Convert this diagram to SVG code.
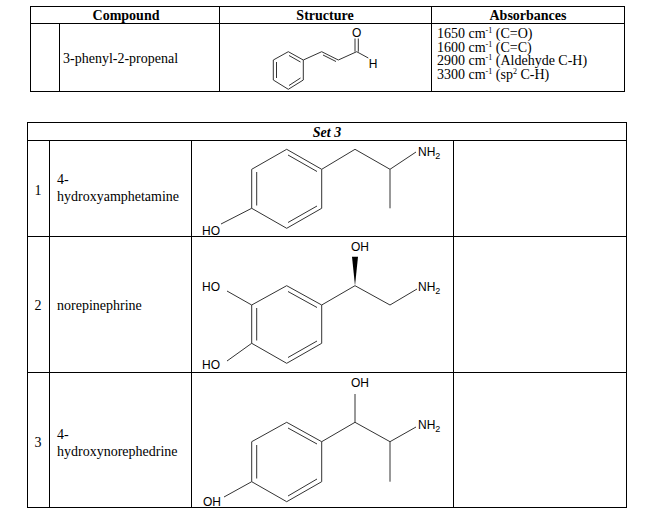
<svg xmlns="http://www.w3.org/2000/svg" width="663" height="526" viewBox="0 0 663 526">
<style>
.t{font-family:"Liberation Serif",serif;font-size:14px;fill:#000}
.h{font-weight:bold;text-anchor:middle}
.a{font-family:"Liberation Sans",Arial,sans-serif;font-size:12px;fill:#000}
.g{fill:none;stroke:#000;stroke-width:1}
.b{fill:none;stroke:#333;stroke-width:1}
</style>
<rect width="663" height="526" fill="#fff"/>
<g id="table1" class="g">
<rect x="30.5" y="6.5" width="594" height="85"/>
<line x1="30" y1="23.5" x2="625" y2="23.5"/>
<line x1="59.5" y1="23" x2="59.5" y2="92"/>
<line x1="219.5" y1="6" x2="219.5" y2="92"/>
<line x1="431.5" y1="6" x2="431.5" y2="92"/>
</g>
<g id="table1-text">
<text class="t h" x="126" y="20">Compound</text>
<text class="t h" x="325" y="20">Structure</text>
<text class="t h" x="528" y="20">Absorbances</text>
<text class="t" x="63" y="63">3-phenyl-2-propenal</text>
<text class="t" x="437" y="38">1650 cm<tspan font-size="8" dy="-5">-1</tspan><tspan dy="5"> (C=O)</tspan></text>
<text class="t" x="437" y="51.5">1600 cm<tspan font-size="8" dy="-5">-1</tspan><tspan dy="5"> (C=C)</tspan></text>
<text class="t" x="437" y="65">2900 cm<tspan font-size="8" dy="-5">-1</tspan><tspan dy="5"> (Aldehyde C-H)</tspan></text>
<text class="t" x="437" y="78.5">3300 cm<tspan font-size="8" dy="-5">-1</tspan><tspan dy="5"> (sp</tspan><tspan font-size="8" dy="-5">2</tspan><tspan dy="5"> C-H)</tspan></text>
</g>
<g id="cinnamaldehyde" class="b">
<polygon points="288.3,51.7 303.3,60 303.3,80 288.3,89.3 273.3,80 273.3,60"/>
<line x1="276.5" y1="62" x2="276.5" y2="78"/>
<line x1="289" y1="55.5" x2="300.5" y2="62"/>
<line x1="300.5" y1="78" x2="289" y2="85.5"/>
<polyline points="303.3,60 321.7,51.7 338.3,60 356.7,51.7 368.3,58"/>
<line x1="323" y1="55" x2="336" y2="61.5"/>
<line x1="355" y1="51.7" x2="355" y2="38.5"/>
<line x1="358.3" y1="51.7" x2="358.3" y2="38.5"/>
</g>
<g id="cinnamaldehyde-labels">
<text class="a" x="356.7" y="37" text-anchor="middle">O</text>
<text class="a" x="373" y="68" text-anchor="middle">H</text>
</g>
<g id="table2" class="g">
<rect x="27.5" y="122.5" width="599" height="385"/>
<line x1="27" y1="140.5" x2="627" y2="140.5"/>
<line x1="49.5" y1="140" x2="49.5" y2="508"/>
<line x1="191.5" y1="140" x2="191.5" y2="508"/>
<line x1="453.5" y1="140" x2="453.5" y2="508"/>
<line x1="27" y1="236.5" x2="627" y2="236.5"/>
<line x1="27" y1="372.5" x2="627" y2="372.5"/>
</g>
<g id="table2-text">
<text class="t" x="327" y="137" text-anchor="middle" font-weight="bold" font-style="italic">Set 3</text>
<text class="t" x="38" y="195" text-anchor="middle">1</text>
<text class="t" x="57" y="184">4-</text>
<text class="t" x="57" y="201">hydroxyamphetamine</text>
<text class="t" x="38" y="310" text-anchor="middle">2</text>
<text class="t" x="57" y="310">norepinephrine</text>
<text class="t" x="38" y="447" text-anchor="middle">3</text>
<text class="t" x="57" y="439">4-</text>
<text class="t" x="57" y="456">hydroxynorephedrine</text>
</g>
<g id="mol1" class="b">
<polygon points="286.7,149.3 321.7,169.3 321.7,208.3 286.7,228.3 251.7,208.3 251.7,169.3"/>
<line x1="256.7" y1="172" x2="256.7" y2="205.5"/>
<line x1="288" y1="155" x2="317" y2="171.5"/>
<line x1="317" y1="206" x2="288" y2="222.5"/>
<polyline points="321.7,169.3 355,149.3 390,169.3 416,152"/>
<line x1="390" y1="169.3" x2="390" y2="208.3"/>
<line x1="251.7" y1="208.3" x2="221" y2="224"/>
</g>
<g id="mol1-labels">
<text class="a" x="202" y="235">HO</text>
<text class="a" x="418" y="156">NH<tspan font-size="9" dy="3">2</tspan></text>
</g>
<g id="mol2" class="b">
<polygon points="286.7,285.7 321.7,305 321.7,343.3 286.7,363.3 251.7,343.3 251.7,305"/>
<line x1="256.7" y1="308" x2="256.7" y2="340.5"/>
<line x1="288" y1="291.5" x2="317" y2="307.5"/>
<line x1="317" y1="341" x2="288" y2="357.5"/>
<polyline points="321.7,305 355,285.7 390,305 417,289"/>
<line x1="251.7" y1="305" x2="227" y2="291"/>
<line x1="251.7" y1="343.3" x2="227" y2="361"/>
<polygon points="355,285.7 352,256.7 358,256.7" fill="#000" stroke="none"/>
</g>
<g id="mol2-labels">
<text class="a" x="360" y="251" text-anchor="middle">OH</text>
<text class="a" x="418" y="291">NH<tspan font-size="9" dy="3">2</tspan></text>
<text class="a" x="202" y="291">HO</text>
<text class="a" x="202" y="369">HO</text>
</g>
<g id="mol3" class="b">
<polygon points="286.7,422.3 321.7,441.7 321.7,481.7 286.7,501.7 251.7,481.7 251.7,441.7"/>
<line x1="256.7" y1="445" x2="256.7" y2="478.5"/>
<line x1="288" y1="428" x2="317" y2="444"/>
<line x1="317" y1="479" x2="288" y2="496"/>
<polyline points="321.7,441.7 355,422.3 390,441.7 416,427"/>
<line x1="355" y1="422.3" x2="355" y2="394"/>
<line x1="390" y1="441.7" x2="390" y2="481.7"/>
<line x1="251.7" y1="481.7" x2="224" y2="497"/>
</g>
<g id="mol3-labels">
<text class="a" x="360" y="387" text-anchor="middle">OH</text>
<text class="a" x="418" y="429">NH<tspan font-size="9" dy="3">2</tspan></text>
<text class="a" x="203" y="506">OH</text>
</g>
</svg>
